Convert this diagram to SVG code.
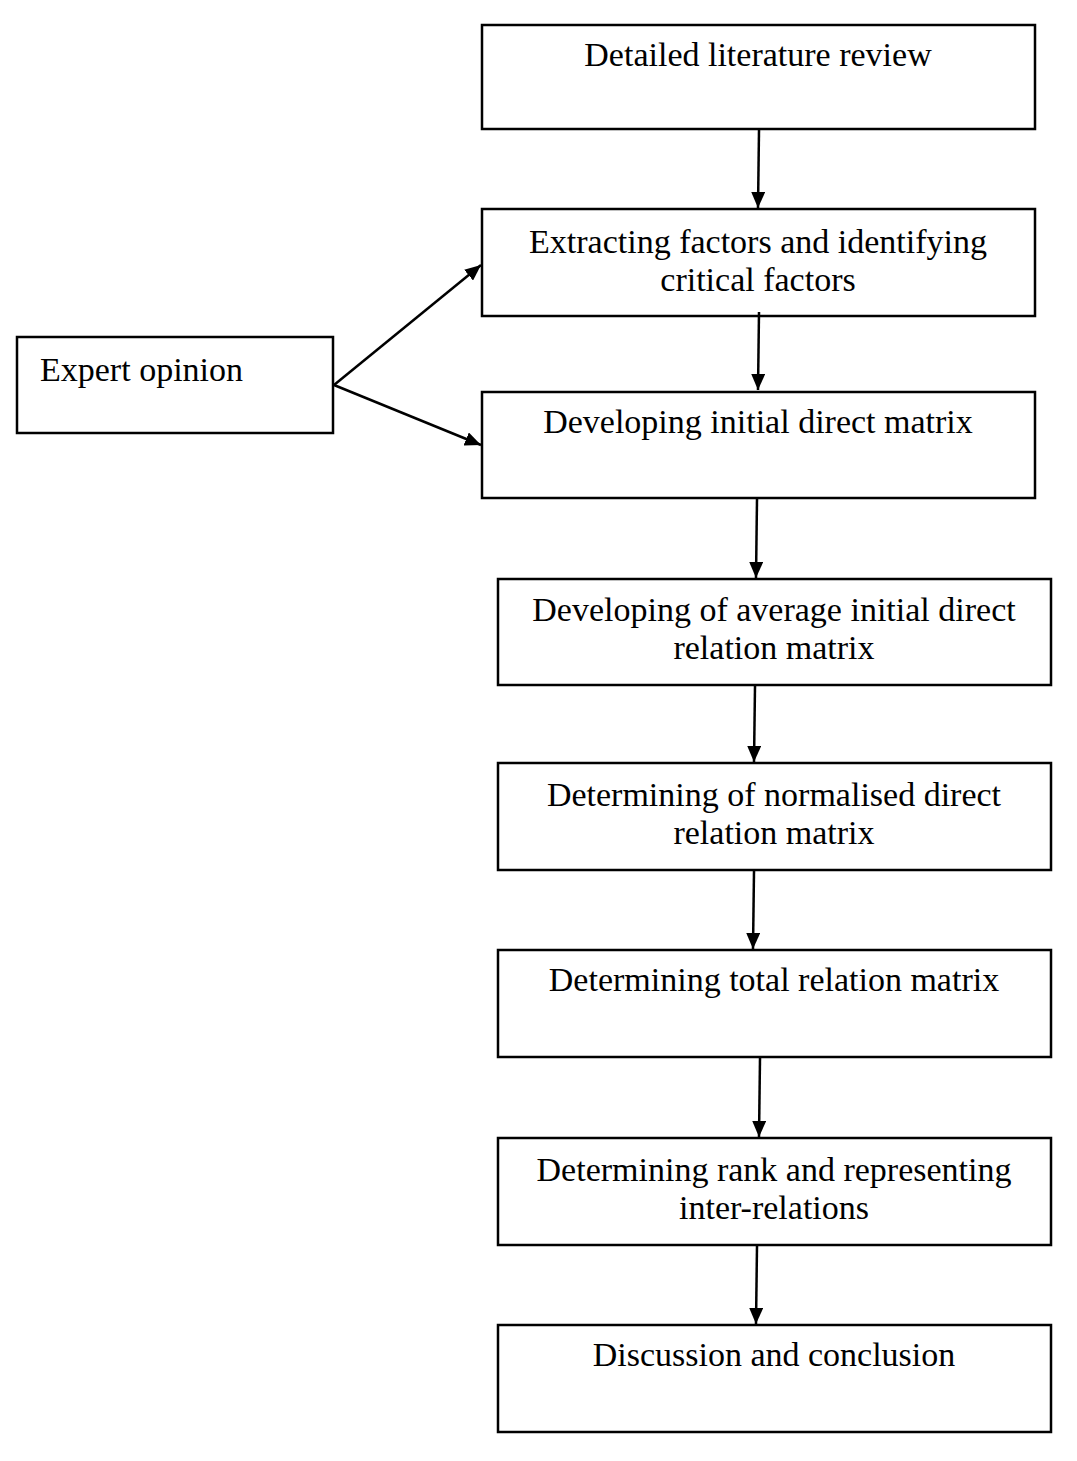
<svg xmlns="http://www.w3.org/2000/svg" width="1077" height="1461" viewBox="0 0 1077 1461">
<style>
rect{fill:#fff;stroke:#000;stroke-width:2.5}
text{font-family:"Liberation Serif","Times New Roman",serif;font-size:34px;fill:#000}
.c{text-anchor:middle}
#connectors line{stroke:#000;stroke-width:2.5;marker-end:url(#a)}
</style>
<defs><marker id="a" markerWidth="16" markerHeight="14" refX="16" refY="7" orient="auto" markerUnits="userSpaceOnUse" viewBox="0 0 16 14"><path d="M0,0L16,7L0,14z" fill="#000"/></marker>
</defs>
<rect x="0" y="0" width="1077" height="1461" style="fill:#fff;stroke:none"/>
<g id="n1"><rect x="482" y="25" width="553" height="104"/><text class="c" x="758" y="66">Detailed literature review</text></g>
<g id="n2"><rect x="482" y="209" width="553" height="107"/><text class="c" x="758" y="253">Extracting factors and identifying</text><text class="c" x="758" y="291">critical factors</text></g>
<g id="n3"><rect x="482" y="392" width="553" height="106"/><text class="c" x="758" y="433">Developing initial direct matrix</text></g>
<g id="n4"><rect x="498" y="579" width="553" height="106"/><text class="c" x="774" y="621">Developing of average initial direct</text><text class="c" x="774" y="659">relation matrix</text></g>
<g id="n5"><rect x="498" y="763" width="553" height="107"/><text class="c" x="774" y="806">Determining of normalised direct</text><text class="c" x="774" y="844">relation matrix</text></g>
<g id="n6"><rect x="498" y="950" width="553" height="107"/><text class="c" x="774" y="991">Determining total relation matrix</text></g>
<g id="n7"><rect x="498" y="1138" width="553" height="107"/><text class="c" x="774" y="1181">Determining rank and representing</text><text class="c" x="774" y="1219">inter-relations</text></g>
<g id="n8"><rect x="498" y="1325" width="553" height="107"/><text class="c" x="774" y="1366">Discussion and conclusion</text></g>
<g id="expert"><rect x="17" y="337" width="316" height="96"/><text x="40" y="381">Expert opinion</text></g>
<g id="connectors">
<line x1="759" y1="130" x2="758" y2="208"/>
<line x1="759" y1="312" x2="758" y2="390"/>
<line x1="757" y1="499" x2="756" y2="578"/>
<line x1="755" y1="686" x2="754" y2="762"/>
<line x1="754" y1="871" x2="753" y2="949"/>
<line x1="760" y1="1058" x2="759" y2="1137"/>
<line x1="757" y1="1246" x2="756" y2="1324"/>
<line x1="334" y1="385" x2="481" y2="265"/>
<line x1="334" y1="385" x2="481" y2="445"/>
</g>
</svg>
